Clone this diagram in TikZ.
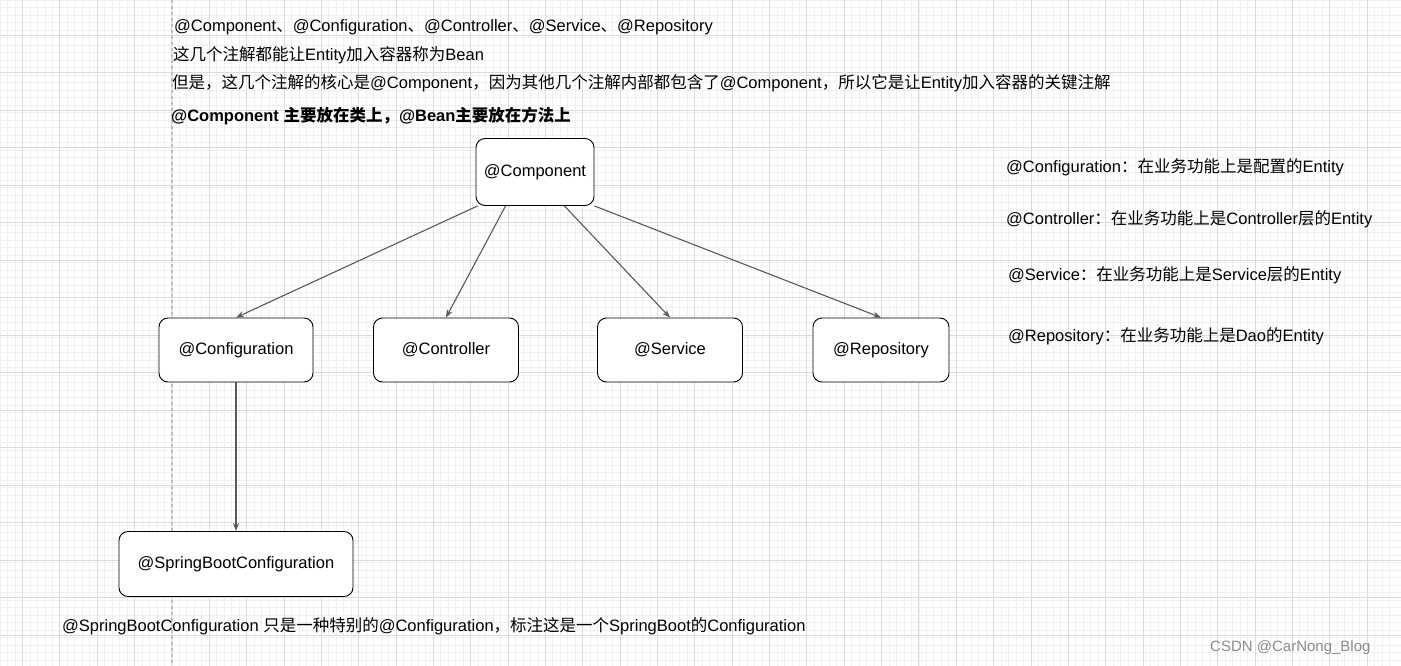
\documentclass[tikz,border=0pt]{standalone}
\usepackage{fontspec}
\setmainfont{Liberation Sans}
\newfontfamily\cjk[Scale=1.0]{Noto Sans CJK SC}
\newfontfamily\lat{Liberation Sans}
\usetikzlibrary{arrows.meta, positioning}
% automatic switch to the CJK font
\XeTeXinterchartokenstate=1
\newXeTeXintercharclass\cjkclass
\count255="3000
\loop\ifnum\count255<"3040 \XeTeXcharclass\count255=\cjkclass \advance\count255 by 1 \repeat
\count255="4E00
\loop\ifnum\count255<"A000 \XeTeXcharclass\count255=\cjkclass \advance\count255 by 1 \repeat
\count255="FF00
\loop\ifnum\count255<"FFF0 \XeTeXcharclass\count255=\cjkclass \advance\count255 by 1 \repeat
\XeTeXinterchartoks 0 \cjkclass = {\cjk}
\XeTeXinterchartoks 4095 \cjkclass = {\cjk}
\XeTeXinterchartoks \cjkclass 0 = {\lat}

\begin{document}
\begin{tikzpicture}[x=1pt, y=-1pt, >=Stealth,
  box/.style={draw, rounded corners=9pt, fill=white, minimum height=64pt, line width=0.9pt, font=\fontsize{16.5}{19}\selectfont},
  note/.style={anchor=west, inner sep=0pt, font=\fontsize{16.5}{19}\selectfont},
  link/.style={->, draw=black!65, line width=1.1pt}]

% background grid
\useasboundingbox (0,0) rectangle (1401,666);
\fill[white] (0,0) rectangle (1401,666);
\foreach \i in {0,...,186} {
  \draw[black!6, line width=0.6pt] ({\i*7.47},0) -- ({\i*7.47},666);
}
\foreach \j in {0,...,89} {
  \draw[black!6, line width=0.6pt] (0,{\j*7.5}) -- (1401,{\j*7.5});
}
\foreach \i in {0,...,38} {
  \draw[black!14, line width=0.7pt] ({22.4+\i*37.35},0) -- ({22.4+\i*37.35},666);
}
\foreach \j in {0,...,18} {
  \draw[black!14, line width=0.7pt] (0,{35+\j*37.5}) -- (1401,{35+\j*37.5});
}
\draw[black!25, dashed, line width=1.2pt] (172,0) -- (172,666);

% header notes
\node[note] (t1) at (174,27) {@Component、@Configuration、@Controller、@Service、@Repository};
\node[note] (t2) at (173,55) {这几个注解都能让Entity加入容器称为Bean};
\node[note] (t3) at (172,83) {但是，这几个注解的核心是@Component，因为其他几个注解内部都包含了@Component，所以它是让Entity加入容器的关键注解};
\node[note, font=\fontsize{16.5}{19}\selectfont\bfseries] (t4) at (171,116) {@Component 主要放在类上，@Bean主要放在方法上};

% boxes
\node[box, minimum width=118pt, minimum height=67pt] (comp) at (535,172) {@Component};
\node[box, minimum width=154pt] (conf) at (236,350) {@Configuration};
\node[box, minimum width=145pt] (ctrl) at (446,350) {@Controller};
\node[box, minimum width=145pt] (serv) at (670,350) {@Service};
\node[box, minimum width=136pt] (repo) at (881,350) {@Repository};
\node[box, minimum width=234pt, minimum height=65pt] (sbc) at (236,564) {@SpringBootConfiguration};

% arrows
\draw[link] ([xshift=2pt]comp.south west) -- (conf.north);
\draw[link] ([xshift=30pt]comp.south west) -- (ctrl.north);
\draw[link] ([xshift=-30pt]comp.south east) -- (serv.north);
\draw[link] (comp.south east) -- (repo.north);
\draw[link] (conf.south) -- (sbc.north);

% side notes
\node[note] (n1) at (1006,167) {@Configuration：在业务功能上是配置的Entity};
\node[note] (n2) at (1006,219) {@Controller：在业务功能上是Controller层的Entity};
\node[note] (n3) at (1008,275) {@Service：在业务功能上是Service层的Entity};
\node[note] (n4) at (1008,336) {@Repository：在业务功能上是Dao的Entity};
\node[note] (n5) at (62,626) {@SpringBootConfiguration 只是一种特别的@Configuration，标注这是一个SpringBoot的Configuration};
\node[note, text=black!45, font=\fontsize{15}{18}\selectfont] (mark) at (1210,648) {CSDN @CarNong\_Blog};
\end{tikzpicture}
\end{document}
